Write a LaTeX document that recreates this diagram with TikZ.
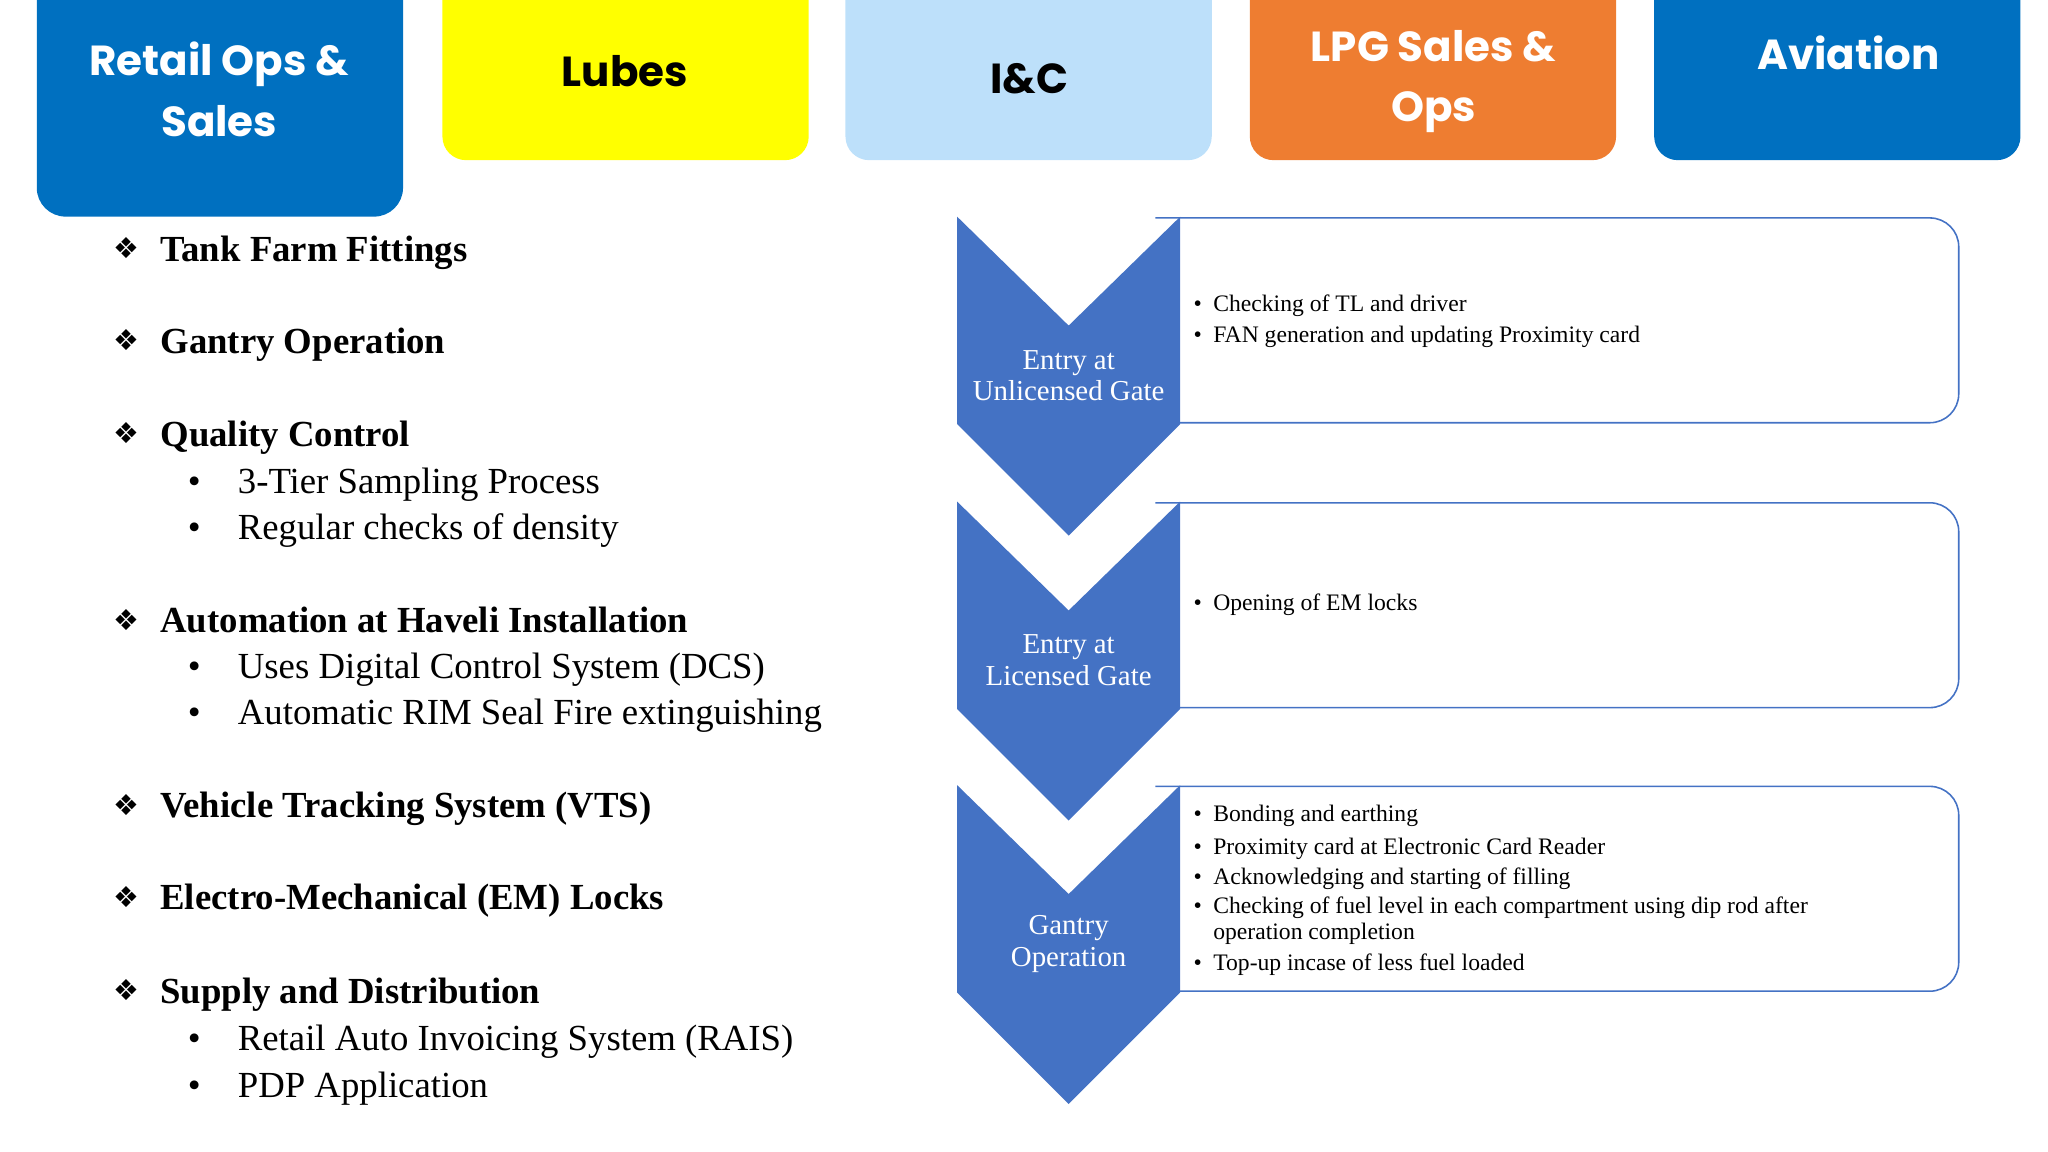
\documentclass[tikz,border=0pt]{standalone}
\usepackage{fontspec}
\setmainfont{Liberation Serif}
\newfontfamily\hdfont{Poppins}
\newfontfamily\symfont{DejaVu Sans}
\definecolor{rblue}{HTML}{0070C0}
\definecolor{lyel}{HTML}{FFFF00}
\definecolor{lblue}{HTML}{BDE0FA}
\definecolor{lorange}{HTML}{EE7D31}
\definecolor{chev}{HTML}{4472C4}
\begin{document}
\begin{tikzpicture}[x=1pt,y=-1pt,
  hdr/.style={font=\hdfont\bfseries\fontsize{32}{46}\selectfont,align=center},
  mainitem/.style={anchor=base west,font=\bfseries\fontsize{28}{30}\selectfont,inner sep=0},
  subitem/.style={anchor=base west,font=\fontsize{28}{30}\selectfont,inner sep=0},
  dia/.style={anchor=base west,font=\symfont\fontsize{22}{24}\selectfont,inner sep=0},
  chevtxt/.style={font=\fontsize{22}{24}\selectfont,text=white,align=center},
  bx/.style={draw=chev,line width=1.2pt},
  bitem/.style={anchor=base west,font=\fontsize{18}{20}\selectfont,inner sep=0}]
\useasboundingbox (0,0) rectangle (1560,877.5);
% headers
\fill[rblue,rounded corners=22] (28,-30) -- (28,165) -- (307,165) -- (307,-30) -- cycle;
\fill[lyel,rounded corners=18] (337,-30) -- (337,122) -- (616,122) -- (616,-30) -- cycle;
\fill[lblue,rounded corners=18] (644,-30) -- (644,122) -- (923,122) -- (923,-30) -- cycle;
\fill[lorange,rounded corners=18] (952,-30) -- (952,122) -- (1231,122) -- (1231,-30) -- cycle;
\fill[rblue,rounded corners=18] (1260,-30) -- (1260,122) -- (1539,122) -- (1539,-30) -- cycle;
\node[hdr,text=white] (h1) at (167,68) {Retail Ops \&\\Sales};
\node[hdr,text=black] (h2) at (476,54) {Lubes};
\node[hdr,text=black] (h3) at (784,60) {I\&C};
\node[hdr,text=white] (h4) at (1092,62) {LPG Sales \&\\Ops};
\node[hdr,text=white] (h5) at (1408,40) {Aviation};
% left list
\foreach \y/\t in {199/Tank Farm Fittings,269/Gantry Operation,340/Quality Control,482/Automation at Haveli Installation,623/Vehicle Tracking System (VTS),693/Electro-Mechanical (EM) Locks,764/Supply and Distribution}{
  \node[dia] at (86,\y-2) {❖};
  \node[mainitem] at (122,\y) {\t};}
\foreach \y/\t in {376/3-Tier Sampling Process,411/Regular checks of density,517/Uses Digital Control System (DCS),552/Automatic RIM Seal Fire extinguishing,800/Retail Auto Invoicing System (RAIS),836/PDP Application}{
  \node[subitem] at (143,\y) {•};
  \node[subitem] at (181,\y) {\t};}
% boxes
\foreach \t in {166,383,599}{
  \draw[bx,rounded corners=22] (880,\t) -- (1492,\t) -- (1492,\t+156) -- (880,\t+156);
  \fill[chev] (729,\t-1) -- (814,\t+82) -- (899,\t-1) -- (899,\t+157) -- (814,\t+242) -- (729,\t+157) -- cycle;}
\node[chevtxt] (c1) at (814,286) {Entry at\\Unlicensed Gate};
\node[chevtxt] (c2) at (814,503) {Entry at\\Licensed Gate};
\node[chevtxt] (c3) at (814,719) {Gantry\\Operation};
\foreach \y/\t in {237/Checking of TL and driver,261/FAN generation and updating Proximity card,465/Opening of EM locks,626/Bonding and earthing,651/Proximity card at Electronic Card Reader,674/Acknowledging and starting of filling,696/Checking of fuel level in each compartment using dip rod after,739/Top-up incase of less fuel loaded}{
  \node[bitem] at (909,\y) {•};
  \node[bitem] at (924,\y) {\t};}
\node[bitem] at (924,716) {operation completion};
\end{tikzpicture}
\end{document}
